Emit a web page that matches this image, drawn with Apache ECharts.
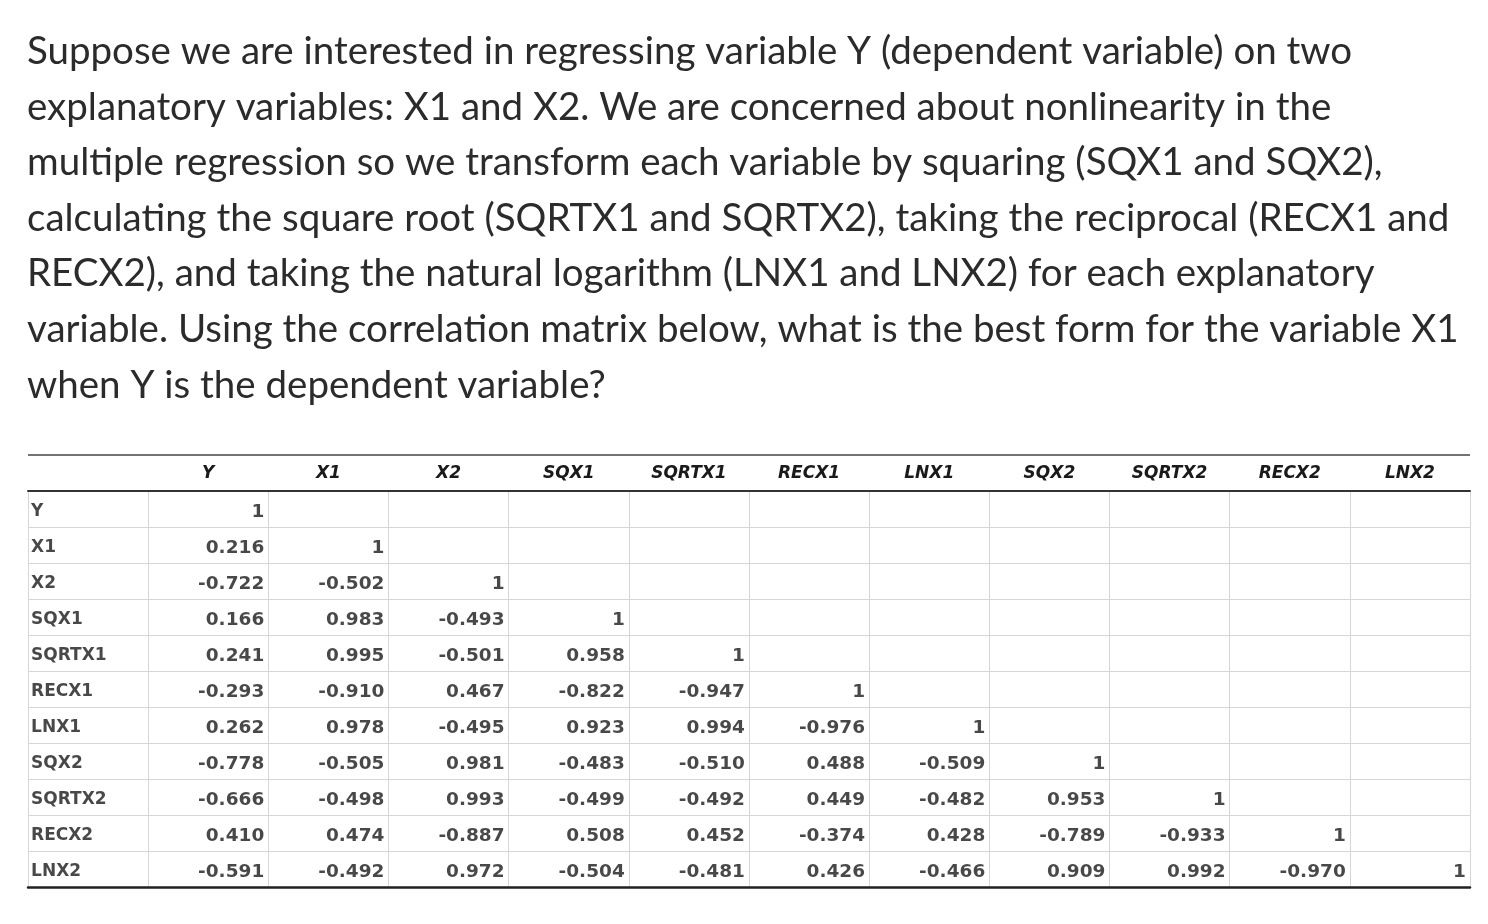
<!DOCTYPE html>
<html><head><meta charset="utf-8">
<script src="https://cdn.jsdelivr.net/npm/echarts@6/dist/echarts.min.js"></script>
<style>html,body{margin:0;padding:0;background:#fff}#c{width:1488px;height:924px}</style>
</head><body><div id="c"></div>
<script>
const paragraph = [
 "Suppose we are interested in regressing variable Y (dependent variable) on two",
 "explanatory variables: X1 and X2. We are concerned about nonlinearity in the",
 "multiple regression so we transform each variable by squaring (SQX1 and SQX2),",
 "calculating the square root (SQRTX1 and SQRTX2), taking the reciprocal (RECX1 and",
 "RECX2), and taking the natural logarithm (LNX1 and LNX2) for each explanatory",
 "variable. Using the correlation matrix below, what is the best form for the variable X1",
 "when Y is the dependent variable?"
];
const variables = ["Y","X1","X2","SQX1","SQRTX1","RECX1","LNX1","SQX2","SQRTX2","RECX2","LNX2"];
const matrixRows = [
 [1],
 [0.216,1],
 [-0.722,-0.502,1],
 [0.166,0.983,-0.493,1],
 [0.241,0.995,-0.501,0.958,1],
 [-0.293,-0.910,0.467,-0.822,-0.947,1],
 [0.262,0.978,-0.495,0.923,0.994,-0.976,1],
 [-0.778,-0.505,0.981,-0.483,-0.510,0.488,-0.509,1],
 [-0.666,-0.498,0.993,-0.499,-0.492,0.449,-0.482,0.953,1],
 [0.410,0.474,-0.887,0.508,0.452,-0.374,0.428,-0.789,-0.933,1],
 [-0.591,-0.492,0.972,-0.504,-0.481,0.426,-0.466,0.909,0.992,-0.970,1]
];
const xCats = [""].concat(variables);
const cellData = [];
matrixRows.forEach((row,r)=>row.forEach((v,c)=>cellData.push([c+1,r,v])));
const labelData = variables.map((v,r)=>[0,r,v]);

const chart = echarts.init(document.getElementById('c'));
const textGraphics = paragraph.map((t,i)=>({type:'text',left:27,top:32+i*55.6,
  style:{text:t,font:'38.5px Lato',fill:'#2b2b2b'}}));
const cellFont = {fontFamily:'DejaVu Sans',fontWeight:'bold',fontSize:18.5,color:'#1a1a1a'};
chart.setOption({
 animation:false,
 graphic:textGraphics.concat([
  {type:'line',shape:{x1:28,y1:455,x2:1470,y2:455},style:{stroke:'#444',lineWidth:1.5}}
 ]),
 grid:{left:28,right:18,top:491,height:396},
 xAxis:[{type:'category',data:xCats,position:'top',
   axisTick:{show:false},axisLine:{lineStyle:{color:'#333',width:2}},
   axisLabel:{margin:9,fontFamily:'DejaVu Sans',fontWeight:'bold',fontStyle:'italic',fontSize:17,color:'#1a1a1a',interval:0},
   splitLine:{show:true,lineStyle:{color:'#d6d6d6',width:1}}},
  {type:'category',data:xCats,position:'bottom',axisTick:{show:false},axisLabel:{show:false},
   axisLine:{lineStyle:{color:'#222',width:2.5}}}],
 yAxis:{type:'category',data:variables,inverse:true,axisLabel:{show:false},axisTick:{show:false},
   axisLine:{lineStyle:{color:'#d6d6d6'}},splitLine:{show:true,lineStyle:{color:'#d6d6d6'}}},
 series:[
  {type:'scatter',data:cellData,symbolSize:0,
   label:{show:true,position:'inside',align:'right',offset:[56,3],...cellFont,
     formatter:p=>p.value[2]===1?'1':p.value[2].toFixed(3)}},
  {type:'scatter',data:labelData,symbolSize:0,
   label:{show:true,position:'inside',align:'left',offset:[-57,3],...cellFont,fontSize:17,
     formatter:p=>p.value[2]}}
 ]
});
</script></body></html>
